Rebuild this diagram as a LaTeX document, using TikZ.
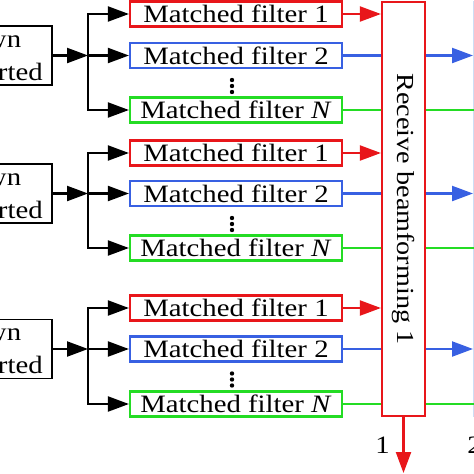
\documentclass[tikz,border=0pt]{standalone}
\usepackage{fontspec}
\setmainfont{Liberation Serif}[FakeStretch=1.15]
\usetikzlibrary{arrows.meta}
\pgfdeclarelayer{bgg}
\pgfdeclarelayer{bg}
\pgfsetlayers{bgg,bg,main}
\definecolor{cred}{RGB}{232,22,26}
\definecolor{cblue}{RGB}{56,96,226}
\definecolor{cgreen}{RGB}{36,220,36}
\definecolor{pblue}{RGB}{234,241,251}
\definecolor{pblueb}{RGB}{205,222,245}
\begin{document}
\begin{tikzpicture}[x=1pt,y=-1pt,
  txt/.style={font=\fontsize{25}{33}\selectfont, inner sep=0pt},
  mfbox/.style={txt, draw=#1, line width=2.2pt, fill=white, minimum width=212pt, minimum height=25pt},
  srcbox/.style={txt, draw=black, line width=1.5pt, fill=white, minimum width=132pt, minimum height=59pt, align=center},
  rbbox/.style={draw=cred, line width=2.2pt, fill=white, minimum width=43pt, minimum height=414pt, inner sep=0pt},
  rbfade/.style={draw=pblueb, line width=2pt, fill=pblue, minimum width=43pt, minimum height=414pt, inner sep=0pt},
  link/.style={line width=2.2pt},
  tipA/.style={-{Triangle[length=21pt,width=15pt]}},
  dot/.style={circle, fill=black, inner sep=0pt, minimum size=4.4pt}
]
\useasboundingbox (0,0) rectangle (474,474);
\clip (0,0) rectangle (474,474);
\coordinate (edge) at (490,0);
\coordinate (bottom) at (0,473);
\node[rbbox] (rb1) at (403.5,209) {};
\node[txt, rotate=-90, font=\fontsize{24.5}{33}\selectfont] (rbt) at (rb1.center) {Receive beamforming 1};
\begin{pgfonlayer}{bgg}
\node[rbfade, anchor=west] (rb2) at (473,209) {};
\end{pgfonlayer}
\foreach \g/\ya/\yb/\yn in {1/14/55.5/110, 2/153/193.5/248, 3/308/349/404} {
  \node[srcbox] (src\g) at (-14,\yb) {Down\\converted};
  \node[mfbox=cred] (mfa\g) at (236,\ya) {Matched filter 1};
  \node[mfbox=cblue] (mfb\g) at (236,\yb) {Matched filter 2};
  \node[mfbox=cgreen] (mfn\g) at (236,\yn) {Matched filter \textit{N}};
  \coordinate (br\g) at (88,\yb);
  \foreach \d [count=\k] in {24.5,30.5,36.5} \node[dot] (dt\g\k) at (232,\yb+\d) {};
  \begin{pgfonlayer}{bg}
    \draw[link,tipA] (src\g.east) -- (br\g);
    \draw[link,tipA] (br\g) |- (mfa\g.west);
    \draw[link,tipA] (br\g) -- (mfb\g.west);
    \draw[link,tipA] (br\g) |- (mfn\g.west);
    \draw[link,cred,tipA] (mfa\g.east) -- (rb1.west |- mfa\g.east);
    \draw[link,cblue,tipA] (mfb\g.east) -- (rb2.west |- mfb\g.east);
    \draw[link,cgreen] (mfn\g.east) -- (edge |- mfn\g.east);
  \end{pgfonlayer}
}
\draw[link,cred,tipA] (rb1.south) -- (rb1.south |- bottom);
\node[txt] (lab1) at ([xshift=-21pt,yshift=-28pt]rb1.south) {1};
\node[txt] (lab2) at ([xshift=-21pt,yshift=-28pt]rb2.south) {2};
\end{tikzpicture}
\end{document}
